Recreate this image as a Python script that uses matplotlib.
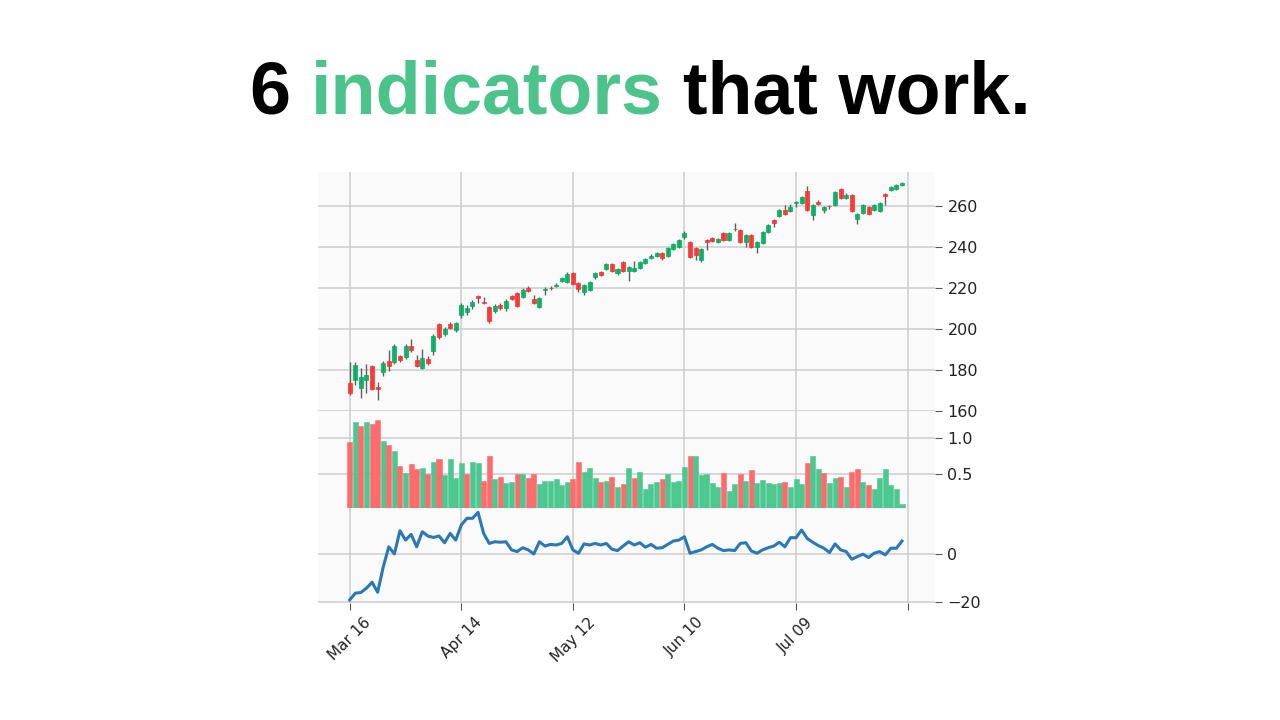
import numpy as np
import matplotlib.pyplot as plt

# daily OHLC (index 0 = Mar 16)
opens = [173.7, 175.1, 171.2, 175.1, 182.0, 171.5, 179.0, 184.4, 183.9, 186.8,
         186.3, 191.7, 184.9, 181.0, 185.4, 189.3, 202.4, 197.6, 202.4, 199.5,
         206.8, 208.3, 211.2, 216.1, 213.2, 210.7, 208.8, 211.7, 210.2, 216.1,
         217.6, 215.6, 220.0, 214.6, 210.7, 219.2, 220.2, 221.2, 223.4, 222.9,
         227.3, 222.4, 218.0, 219.0, 225.4, 227.8, 229.3, 231.7, 227.3, 232.7,
         228.3, 228.3, 229.8, 232.2, 234.6, 235.6, 237.1, 235.6, 239.0, 240.0,
         244.9, 242.4, 239.5, 233.7, 243.4, 244.4, 242.4, 246.8, 243.4, 248.6,
         248.3, 242.4, 245.9, 240.0, 242.0, 247.3, 253.2, 255.0, 258.0, 257.6,
         261.5, 261.5, 267.3, 255.6, 262.0, 258.0, 260.2, 260.5, 268.3, 263.9,
         265.4, 253.7, 256.6, 259.5, 258.0, 257.6, 265.9, 267.8, 268.3, 270.2]
highs = [183.9, 184.0, 181.0, 183.0, 182.5, 174.0, 184.5, 189.8, 192.5, 187.5,
         192.5, 195.0, 187.3, 190.2, 187.0, 197.5, 203.0, 201.0, 203.5, 203.5,
         212.5, 211.5, 214.0, 216.8, 215.8, 211.0, 212.0, 212.5, 214.5, 216.8,
         218.0, 219.8, 220.8, 216.8, 215.6, 220.4, 220.8, 222.6, 225.5, 227.8,
         228.0, 223.0, 222.0, 223.4, 228.0, 228.2, 232.2, 232.2, 229.8, 233.2,
         230.8, 233.0, 233.2, 234.6, 236.5, 237.8, 237.6, 240.0, 242.0, 244.0,
         248.0, 243.0, 240.0, 239.5, 243.8, 244.8, 244.4, 247.3, 247.2, 251.5,
         248.8, 246.4, 246.4, 242.9, 247.8, 251.2, 253.7, 258.5, 260.5, 261.0,
         262.5, 264.9, 269.8, 261.0, 263.0, 260.0, 260.7, 267.3, 268.8, 266.5,
         265.9, 256.6, 261.0, 260.0, 261.0, 262.0, 266.4, 269.8, 270.7, 271.5]
lows = [168.0, 172.7, 166.3, 169.0, 170.0, 165.4, 177.0, 179.5, 183.0, 184.0,
        185.5, 189.0, 181.5, 180.5, 182.5, 187.5, 195.0, 196.5, 199.8, 198.5,
        205.5, 207.0, 210.0, 212.5, 212.3, 203.0, 208.0, 209.5, 209.0, 214.0,
        210.8, 215.0, 218.0, 212.0, 210.2, 216.8, 219.0, 220.5, 222.8, 222.3,
        221.5, 218.0, 216.6, 218.5, 224.5, 225.8, 228.8, 227.8, 226.5, 227.8,
        223.4, 228.0, 229.3, 231.5, 234.0, 235.0, 233.8, 235.0, 238.5, 239.5,
        244.0, 234.5, 233.5, 232.8, 238.5, 242.4, 241.9, 242.9, 242.9, 248.0,
        241.9, 240.0, 239.5, 237.0, 241.5, 246.8, 250.0, 254.5, 255.6, 257.1,
        259.5, 261.0, 257.5, 253.2, 260.3, 256.5, 258.5, 260.0, 263.4, 263.4,
        257.1, 251.2, 256.1, 255.6, 257.5, 257.1, 260.5, 267.3, 267.8, 269.9]
closes = [168.8, 182.4, 176.6, 177.6, 170.7, 170.5, 183.4, 182.0, 191.7, 184.9,
          191.7, 189.8, 182.0, 185.9, 183.4, 196.6, 196.1, 200.0, 200.5, 202.9,
          211.7, 210.2, 213.2, 215.1, 212.7, 203.9, 211.2, 210.2, 213.7, 214.6,
          211.2, 219.0, 218.5, 212.7, 215.1, 219.6, 219.8, 221.6, 224.9, 226.8,
          222.0, 219.5, 221.5, 222.9, 227.3, 226.3, 231.7, 228.3, 229.3, 228.3,
          230.2, 229.8, 232.7, 234.1, 235.6, 237.1, 234.6, 239.5, 241.5, 243.4,
          246.8, 235.1, 236.1, 239.0, 242.4, 242.9, 243.9, 243.4, 246.8, 248.9,
          242.4, 245.9, 240.0, 242.4, 247.3, 250.7, 251.7, 258.0, 256.1, 259.5,
          262.0, 264.4, 258.0, 260.5, 260.8, 259.5, 259.8, 266.8, 263.9, 265.4,
          257.6, 256.1, 260.5, 256.1, 260.5, 261.5, 264.9, 269.3, 270.2, 271.2]
volume = [0.94, 1.22, 1.16, 1.22, 1.20, 1.25, 0.96, 0.90, 0.82, 0.61,
          0.51, 0.64, 0.57, 0.58, 0.49, 0.66, 0.71, 0.48, 0.70, 0.44,
          0.65, 0.49, 0.66, 0.65, 0.40, 0.74, 0.43, 0.45, 0.375, 0.38,
          0.49, 0.50, 0.44, 0.50, 0.35, 0.40, 0.40, 0.42, 0.34, 0.38,
          0.43, 0.66, 0.52, 0.58, 0.44, 0.38, 0.40, 0.45, 0.31, 0.35,
          0.58, 0.44, 0.53, 0.28, 0.35, 0.39, 0.42, 0.49, 0.38, 0.40,
          0.59, 0.74, 0.74, 0.48, 0.50, 0.37, 0.32, 0.51, 0.26, 0.35,
          0.49, 0.40, 0.55, 0.37, 0.41, 0.37, 0.35, 0.37, 0.38, 0.32,
          0.43, 0.35, 0.65, 0.74, 0.57, 0.51, 0.37, 0.44, 0.45, 0.32,
          0.53, 0.56, 0.38, 0.34, 0.29, 0.44, 0.56, 0.34, 0.28, 0.07]
indicator = [-19.2, -16.4, -16.1, -14.3, -11.8, -16.0, -5.5, 3.0, 0.0, 9.7,
             5.8, 8.2, 3.0, 9.3, 7.5, 6.9, 7.5, 4.7, 8.6, 5.8,
             12.1, 14.9, 14.9, 17.4, 8.6, 4.4, 5.1, 4.9, 5.1, 1.7,
             1.0, 2.6, 1.7, 0.0, 5.1, 3.3, 4.0, 3.75, 4.4, 7.2,
             1.7, 0.3, 4.2, 3.75, 4.4, 3.75, 4.4, 2.0, 1.4, 3.3,
             5.1, 3.75, 4.7, 2.8, 4.0, 2.4, 2.6, 4.0, 5.4, 5.8,
             7.2, 0.3, 1.0, 1.7, 3.0, 4.0, 2.4, 1.4, 1.7, 1.4,
             4.4, 4.7, 1.25, 0.3, 1.7, 2.6, 3.3, 4.9, 3.0, 6.8,
             6.8, 10.0, 6.5, 4.9, 3.5, 2.4, 0.6, 4.2, 1.7, 1.0,
             -2.2, -1.1, -0.1, -1.5, 0.3, 1.0, -0.4, 2.4, 2.4, 5.4]
tick_labels = ['Mar 16', 'Apr 14', 'May 12', 'Jun 10', 'Jul 09', '']

o = np.array(opens); h = np.array(highs); l = np.array(lows); c = np.array(closes)
v = np.array(volume)
x = np.arange(len(c))

UP, DOWN = '#00b060', '#fe3032'
VUP, VDOWN = '#4dc790', '#fd6b6c'

up = c >= o
candle_col = np.where(up, UP, DOWN)
# volume colour follows close vs previous close
vup = np.concatenate([[c[0] >= o[0]], c[1:] >= c[:-1]])
vol_col = np.where(vup, VUP, VDOWN)

fig = plt.figure(figsize=(12.8, 7.2), dpi=100)
left, width = 0.2484, 0.4820
ax_p = fig.add_axes([left, 0.4292, width, 0.3319])
ax_v = fig.add_axes([left, 0.2944, width, 0.1348], sharex=ax_p)
ax_i = fig.add_axes([left, 0.1625, width, 0.1319], sharex=ax_p)

for ax in (ax_p, ax_v, ax_i):
    ax.set_facecolor('#fafafa')
    ax.grid(True, color='#d0d0d0', linewidth=1.2)
    ax.set_axisbelow(True)
    for s in ax.spines.values():
        s.set_visible(False)
    ax.yaxis.tick_right()
    ax.tick_params(axis='y', length=5, color='#555555', labelcolor='#222222',
                   labelsize=11.5, pad=4)
    ax.tick_params(axis='x', length=5, color='#555555', labelcolor='#222222',
                   labelsize=11)

# candles
ax_p.vlines(x, l, h, color='#606060', linewidth=1, zorder=2)
ax_p.bar(x, np.abs(c - o), bottom=np.minimum(o, c), width=0.72,
         color=candle_col, edgecolor=candle_col, linewidth=0.6, alpha=0.9, zorder=3)
ax_p.set_ylim(160, 276.6)
ax_p.set_yticks([160, 180, 200, 220, 240, 260])

# volume
ax_v.bar(x, v, width=0.9, color=vol_col, edgecolor=vol_col, linewidth=0.4, zorder=3)
ax_v.set_ylim(0.02, 1.375)
ax_v.set_yticks([0.5, 1.0])

# indicator line
ax_i.plot(x, indicator, color='#2a78b5', linewidth=2.2, zorder=3)
ax_i.set_ylim(-20.5, 19.2)
ax_i.set_yticks([-20, 0])

ax_i.set_xlim(-5.7, 104.9)
ax_i.set_xticks(np.arange(0, 101, 20))
ax_i.set_xticklabels(tick_labels, rotation=45, ha='center')
for ax in (ax_p, ax_v):
    ax.tick_params(axis='x', bottom=False, labelbottom=False)

# two-colour title
parts = [('6', 'black'), ('indicators', '#4bc38b'), ('that work.', 'black')]
kw = dict(fontsize=53, fontweight='bold', family='Liberation Sans', va='baseline')
texts = [fig.text(0, 0.843, s, color=col, **kw) for s, col in parts]
full = fig.text(0, 0.843, ' '.join(s for s, _ in parts), alpha=0, **kw)
fig.canvas.draw()
r = fig.canvas.get_renderer()
widths = [t.get_window_extent(r).width for t in texts]
total = full.get_window_extent(r).width
gap = (total - sum(widths)) / 2
xpos = 640 - total / 2
for t, w in zip(texts, widths):
    t.set_x(xpos / 1280)
    xpos += w + gap
full.remove()

fig.savefig('out.png', dpi=100)
